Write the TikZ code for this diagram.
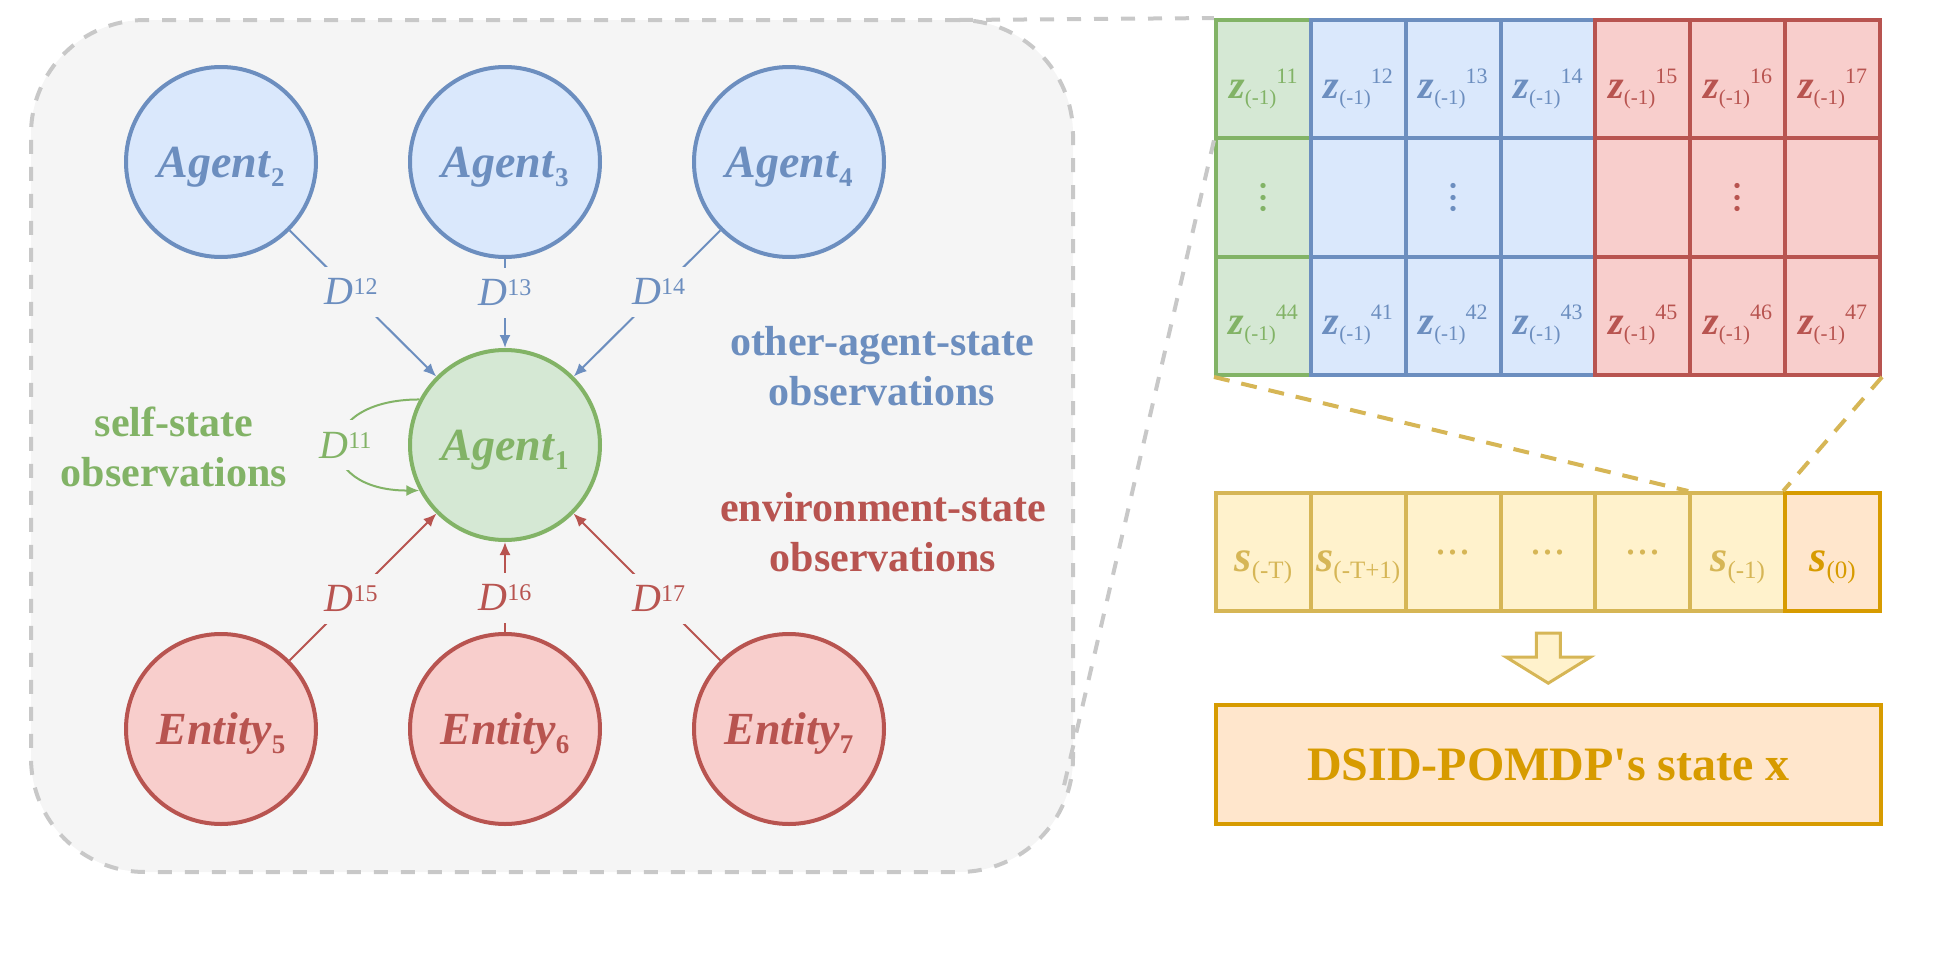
\documentclass[tikz,border=0pt]{standalone}
\usepackage{fontspec}
\setmainfont{Liberation Serif}
\usetikzlibrary{arrows.meta,calc}

\definecolor{bluedraw}{HTML}{6C8EBF}
\definecolor{bluefill}{HTML}{DAE8FC}
\definecolor{greendraw}{HTML}{82B366}
\definecolor{greenfill}{HTML}{D5E8D4}
\definecolor{reddraw}{HTML}{B85450}
\definecolor{redfill}{HTML}{F8CECC}
\definecolor{yellowdraw}{HTML}{D6B656}
\definecolor{yellowfill}{HTML}{FFF2CC}
\definecolor{orangedraw}{HTML}{D79B00}
\definecolor{orangefill}{HTML}{FFE6CC}
\definecolor{panelfill}{HTML}{F5F5F5}
\definecolor{paneldraw}{HTML}{C8C8C8}

\newcommand{\unitsize}{0.5pt}
\newcommand{\agentlab}[1]{\textbf{\textit{Agent}}\raisebox{-4.5pt}{\fontsize{13.5}{13.5}\selectfont\textbf{#1}}}
\newcommand{\entitylab}[1]{\textbf{\textit{Entity}}\raisebox{-4.5pt}{\fontsize{13.5}{13.5}\selectfont\textbf{#1}}}
\newcommand{\dlab}[1]{\textit{D}\raisebox{5pt}{\fontsize{12}{12}\selectfont#1}}
\newcommand{\zlab}[1]{\textbf{\textit{z}}\raisebox{-3pt}{\fontsize{10.5}{10.5}\selectfont(-1)}\raisebox{7.5pt}{\fontsize{11}{11}\selectfont#1}}
\newcommand{\slab}[1]{\textbf{\textit{s}}\raisebox{-3.5pt}{\fontsize{12.5}{12.5}\selectfont#1}}
\newcommand{\seqdots}{{\fontsize{22}{22}\selectfont.\kern.4pt.\kern.4pt.}}
\newcommand{\coldots}{\rotatebox{90}{\seqdots}}
\newcommand{\zcell}[5]{\node[cell, #4] (#1) at (#2,#3) {#5};}

\tikzset{
	panel/.style={draw=paneldraw, fill=panelfill, line width=2pt, dash pattern=on 7pt off 6.5pt,
		rounded corners=57pt, minimum width=521pt, minimum height=426pt},
	obsnode/.style={circle, line width=2pt, minimum size=95pt, inner sep=0pt,
		font=\fontsize{23}{27}\selectfont, text height=15pt, text depth=0pt},
	bluenode/.style={obsnode, draw=bluedraw, fill=bluefill, text=bluedraw},
	greennode/.style={obsnode, draw=greendraw, fill=greenfill, text=greendraw},
	rednode/.style={obsnode, draw=reddraw, fill=redfill, text=reddraw},
	obsarrow/.style={line width=1pt, -{Latex[length=6.5pt,width=5.5pt]}},
	bluearrow/.style={obsarrow, color=bluedraw},
	greenarrow/.style={obsarrow, color=greendraw},
	redarrow/.style={obsarrow, color=reddraw},
	dnode/.style={fill=panelfill, inner sep=6pt, font=\fontsize{20}{24}\selectfont},
	obstext/.style={align=center, font=\fontsize{21}{25}\selectfont\bfseries},
	cell/.style={draw, line width=2pt, minimum width=47.43pt, minimum height=59.17pt, inner sep=0pt},
	ztext/.style={font=\fontsize{20}{24}\selectfont, text height=20pt, text depth=1pt},
	stext/.style={font=\fontsize{22}{26}\selectfont, text height=20pt, text depth=1pt},
	greencell/.style={draw=greendraw, fill=greenfill, text=greendraw},
	bluecell/.style={draw=bluedraw, fill=bluefill, text=bluedraw},
	redcell/.style={draw=reddraw, fill=redfill, text=reddraw},
	yellowcell/.style={draw=yellowdraw, fill=yellowfill, text=yellowdraw},
	orangecell/.style={draw=orangedraw, fill=orangefill, text=orangedraw},
	graylink/.style={draw=paneldraw, line width=2pt, dash pattern=on 7pt off 6.5pt},
	yellowlink/.style={draw=yellowdraw, line width=2pt, dash pattern=on 8pt off 6pt},
	hollowarrow/.style={draw=yellowdraw, fill=yellowfill, line width=1.5pt, line join=miter},
	statebox/.style={draw=orangedraw, fill=orangefill, text=orangedraw, line width=2pt,
		minimum width=332.5pt, minimum height=59.5pt, font=\fontsize{24}{28}\selectfont\bfseries}
}

\begin{document}
\begin{tikzpicture}[x=\unitsize,y=-\unitsize]
	\useasboundingbox (0,0) rectangle (1940,964);

	\node[panel] (panel) at (552,446) {};
	\coordinate (paneltop) at (959,20);
	\coordinate (panelcorner) at (1063,790);

	\node[greennode] (a1) at (505,445) {\agentlab{1}};
	\node[bluenode] (a2) at (221,162) {\agentlab{2}};
	\node[bluenode] (a3) at (505,162) {\agentlab{3}};
	\node[bluenode] (a4) at (789,162) {\agentlab{4}};
	\node[rednode] (e5) at (221,729) {\entitylab{5}};
	\node[rednode] (e6) at (505,729) {\entitylab{6}};
	\node[rednode] (e7) at (789,729) {\entitylab{7}};

	\draw[bluearrow] (a2) -- node[dnode, pos=.42] (d12) {\dlab{12}} (a1);
	\draw[bluearrow] (a3) -- node[dnode, pos=.38] (d13) {\dlab{13}} (a1);
	\draw[bluearrow] (a4) -- node[dnode, pos=.42] (d14) {\dlab{14}} (a1);
	\draw[redarrow] (e5) -- node[dnode, pos=.42] (d15) {\dlab{15}} (a1);
	\draw[redarrow] (e6) -- node[dnode, pos=.38] (d16) {\dlab{16}} (a1);
	\draw[redarrow] (e7) -- node[dnode, pos=.42] (d17) {\dlab{17}} (a1);
	\draw[greenarrow] (a1.152) to[out=180,in=180,looseness=3] node[dnode, xshift=3pt] (d11) {\dlab{11}} (a1.208);

	\node[obstext, text=greendraw] (selfobs) at (174,447) {self-state\\observations};
	\node[obstext, text=bluedraw] (otherobs) at (882,366) {other-agent-state\\observations};
	\node[obstext, text=reddraw] (envobs) at (883,532) {environment-state\\observations};

	% observation matrix
	\zcell{z11}{1263.4}{79.2}{greencell, ztext}{\zlab{11}}
	\zcell{z12}{1358.3}{79.2}{bluecell, ztext}{\zlab{12}}
	\zcell{z13}{1453.2}{79.2}{bluecell, ztext}{\zlab{13}}
	\zcell{z14}{1548.0}{79.2}{bluecell, ztext}{\zlab{14}}
	\zcell{z15}{1642.9}{79.2}{redcell, ztext}{\zlab{15}}
	\zcell{z16}{1737.7}{79.2}{redcell, ztext}{\zlab{16}}
	\zcell{z17}{1832.6}{79.2}{redcell, ztext}{\zlab{17}}
	\zcell{m1}{1263.4}{197.5}{greencell}{\coldots}
	\zcell{m2}{1358.3}{197.5}{bluecell}{}
	\zcell{m3}{1453.2}{197.5}{bluecell}{\coldots}
	\zcell{m4}{1548.0}{197.5}{bluecell}{}
	\zcell{m5}{1642.9}{197.5}{redcell}{}
	\zcell{m6}{1737.7}{197.5}{redcell}{\coldots}
	\zcell{m7}{1832.6}{197.5}{redcell}{}
	\zcell{z44}{1263.4}{315.8}{greencell, ztext}{\zlab{44}}
	\zcell{z41}{1358.3}{315.8}{bluecell, ztext}{\zlab{41}}
	\zcell{z42}{1453.2}{315.8}{bluecell, ztext}{\zlab{42}}
	\zcell{z43}{1548.0}{315.8}{bluecell, ztext}{\zlab{43}}
	\zcell{z45}{1642.9}{315.8}{redcell, ztext}{\zlab{45}}
	\zcell{z46}{1737.7}{315.8}{redcell, ztext}{\zlab{46}}
	\zcell{z47}{1832.6}{315.8}{redcell, ztext}{\zlab{47}}

	% state sequence
	\zcell{sT}{1263.4}{552.2}{yellowcell, stext}{\slab{(-T)}}
	\zcell{sT1}{1358.3}{552.2}{yellowcell, stext}{\slab{(-T+1)}}
	\zcell{sd1}{1453.2}{552.2}{yellowcell}{\seqdots}
	\zcell{sd2}{1548.0}{552.2}{yellowcell}{\seqdots}
	\zcell{sd3}{1642.9}{552.2}{yellowcell}{\seqdots}
	\zcell{sm1}{1737.7}{552.2}{yellowcell, stext}{\slab{(-1)}}
	\zcell{s0}{1832.6}{552.2}{orangecell, stext}{\slab{(0)}}

	\node[statebox] (state) at (1548.5,764.5) {DSID-POMDP\textquotesingle s state x};

	\draw[graylink] (paneltop) -- (z11.north west);
	\draw[graylink] (z11.south west) -- (panelcorner);
	\draw[yellowlink] (z44.south west) -- (sm1.north west);
	\draw[yellowlink] (z47.south east) -- (s0.north west);

	\coordinate (flow) at ($(sd2.south)!.5!(state.north)$);
	\draw[hollowarrow] ($(flow)+(-12,-25)$) -- ++(24,0) -- ++(0,24) -- ++(30,0)
		-- ($(flow)+(0,25)$) -- ($(flow)+(-42,-1)$) -- ++(30,0) -- cycle;
\end{tikzpicture}
\end{document}
